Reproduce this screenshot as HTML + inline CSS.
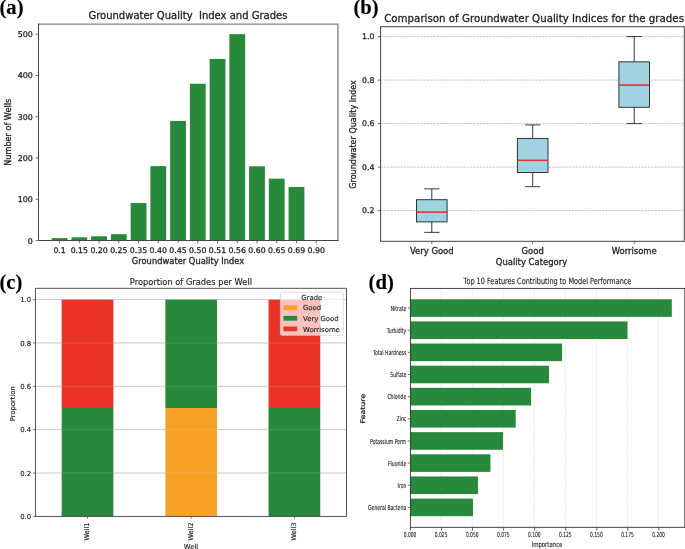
<!DOCTYPE html>
<html><head><meta charset="utf-8"><title>Groundwater Quality Figure</title>
<style>
html,body{margin:0;padding:0;background:#fff;}
body{width:685px;height:549px;overflow:hidden;}
svg{display:block;}
text{white-space:pre;font-family:"DejaVu Sans","Liberation Sans",sans-serif;fill:#222;stroke:#222;stroke-width:0.28px;}
#panel-c text,#panel-d text{stroke-width:0.14px;}
.lab{font-family:"Liberation Serif","DejaVu Serif",serif;font-weight:bold;fill:#000;stroke:#000;stroke-width:0.15px !important;}
</style></head><body>
<svg width="685" height="549" viewBox="0 0 685 549">
<rect width="685" height="549" fill="#fff"/>

<g id="panel-a">
<rect x="51.70" y="238.12" width="15.80" height="2.48" fill="#27893a"/>
<line x1="59.60" y1="240.50" x2="59.60" y2="243.30" stroke="#444" stroke-width="0.8"/>
<text x="59.60" y="252.90" font-size="7.80" text-anchor="middle" xml:space="preserve">0.1</text>
<rect x="71.44" y="237.30" width="15.80" height="3.30" fill="#27893a"/>
<line x1="79.34" y1="240.50" x2="79.34" y2="243.30" stroke="#444" stroke-width="0.8"/>
<text x="79.34" y="252.90" font-size="7.80" text-anchor="middle" xml:space="preserve">0.15</text>
<rect x="91.18" y="236.27" width="15.80" height="4.33" fill="#27893a"/>
<line x1="99.08" y1="240.50" x2="99.08" y2="243.30" stroke="#444" stroke-width="0.8"/>
<text x="99.08" y="252.90" font-size="7.80" text-anchor="middle" xml:space="preserve">0.20</text>
<rect x="110.92" y="234.20" width="15.80" height="6.40" fill="#27893a"/>
<line x1="118.82" y1="240.50" x2="118.82" y2="243.30" stroke="#444" stroke-width="0.8"/>
<text x="118.82" y="252.90" font-size="7.80" text-anchor="middle" xml:space="preserve">0.25</text>
<rect x="130.66" y="203.04" width="15.80" height="37.56" fill="#27893a"/>
<line x1="138.56" y1="240.50" x2="138.56" y2="243.30" stroke="#444" stroke-width="0.8"/>
<text x="138.56" y="252.90" font-size="7.80" text-anchor="middle" xml:space="preserve">0.35</text>
<rect x="150.40" y="166.09" width="15.80" height="74.51" fill="#27893a"/>
<line x1="158.30" y1="240.50" x2="158.30" y2="243.30" stroke="#444" stroke-width="0.8"/>
<text x="158.30" y="252.90" font-size="7.80" text-anchor="middle" xml:space="preserve">0.40</text>
<rect x="170.14" y="120.89" width="15.80" height="119.71" fill="#27893a"/>
<line x1="178.04" y1="240.50" x2="178.04" y2="243.30" stroke="#444" stroke-width="0.8"/>
<text x="178.04" y="252.90" font-size="7.80" text-anchor="middle" xml:space="preserve">0.45</text>
<rect x="189.88" y="83.74" width="15.80" height="156.86" fill="#27893a"/>
<line x1="197.78" y1="240.50" x2="197.78" y2="243.30" stroke="#444" stroke-width="0.8"/>
<text x="197.78" y="252.90" font-size="7.80" text-anchor="middle" xml:space="preserve">0.50</text>
<rect x="209.62" y="58.97" width="15.80" height="181.63" fill="#27893a"/>
<line x1="217.52" y1="240.50" x2="217.52" y2="243.30" stroke="#444" stroke-width="0.8"/>
<text x="217.52" y="252.90" font-size="7.80" text-anchor="middle" xml:space="preserve">0.51</text>
<rect x="229.36" y="34.20" width="15.80" height="206.40" fill="#27893a"/>
<line x1="237.26" y1="240.50" x2="237.26" y2="243.30" stroke="#444" stroke-width="0.8"/>
<text x="237.26" y="252.90" font-size="7.80" text-anchor="middle" xml:space="preserve">0.56</text>
<rect x="249.10" y="166.30" width="15.80" height="74.30" fill="#27893a"/>
<line x1="257.00" y1="240.50" x2="257.00" y2="243.30" stroke="#444" stroke-width="0.8"/>
<text x="257.00" y="252.90" font-size="7.80" text-anchor="middle" xml:space="preserve">0.60</text>
<rect x="268.84" y="178.68" width="15.80" height="61.92" fill="#27893a"/>
<line x1="276.74" y1="240.50" x2="276.74" y2="243.30" stroke="#444" stroke-width="0.8"/>
<text x="276.74" y="252.90" font-size="7.80" text-anchor="middle" xml:space="preserve">0.65</text>
<rect x="288.58" y="186.94" width="15.80" height="53.66" fill="#27893a"/>
<line x1="296.48" y1="240.50" x2="296.48" y2="243.30" stroke="#444" stroke-width="0.8"/>
<text x="296.48" y="252.90" font-size="7.80" text-anchor="middle" xml:space="preserve">0.69</text>
<line x1="316.22" y1="240.50" x2="316.22" y2="243.30" stroke="#444" stroke-width="0.8"/>
<text x="316.22" y="252.90" font-size="7.80" text-anchor="middle" xml:space="preserve">0.90</text>
<line x1="35.70" y1="240.60" x2="38.50" y2="240.60" stroke="#444" stroke-width="0.8"/>
<text x="32.80" y="243.50" font-size="7.90" text-anchor="end" xml:space="preserve">0</text>
<line x1="35.70" y1="199.32" x2="38.50" y2="199.32" stroke="#444" stroke-width="0.8"/>
<text x="32.80" y="202.22" font-size="7.90" text-anchor="end" xml:space="preserve">100</text>
<line x1="35.70" y1="158.04" x2="38.50" y2="158.04" stroke="#444" stroke-width="0.8"/>
<text x="32.80" y="160.94" font-size="7.90" text-anchor="end" xml:space="preserve">200</text>
<line x1="35.70" y1="116.76" x2="38.50" y2="116.76" stroke="#444" stroke-width="0.8"/>
<text x="32.80" y="119.66" font-size="7.90" text-anchor="end" xml:space="preserve">300</text>
<line x1="35.70" y1="75.48" x2="38.50" y2="75.48" stroke="#444" stroke-width="0.8"/>
<text x="32.80" y="78.38" font-size="7.90" text-anchor="end" xml:space="preserve">400</text>
<line x1="35.70" y1="34.20" x2="38.50" y2="34.20" stroke="#444" stroke-width="0.8"/>
<text x="32.80" y="37.10" font-size="7.90" text-anchor="end" xml:space="preserve">500</text>
<path d="M38.50 24.10H337.90V240.50" fill="none" stroke="#858585" stroke-width="1.4"/>
<path d="M38.50 23.40V240.50H338.60" fill="none" stroke="#444" stroke-width="1"/>
<text x="187.90" y="19.00" font-size="10.00" text-anchor="middle" xml:space="preserve">Groundwater Quality  Index and Grades</text>
<text x="188.00" y="263.50" font-size="8.33" text-anchor="middle" xml:space="preserve">Groundwater Quality Index</text>
<text x="11.40" y="132.30" font-size="8.15" text-anchor="middle" transform="rotate(-90 11.40 132.30)" xml:space="preserve">Number of Wells</text>
<text x="-0.50" y="14.00" font-size="20.60" text-anchor="start" class="lab" xml:space="preserve">(a)</text>
</g>
<g id="panel-b">
<line x1="380.60" y1="210.60" x2="684.30" y2="210.60" stroke="#b0b0b0" stroke-width="0.75" stroke-dasharray="2.3 1.0"/>
<line x1="380.60" y1="167.10" x2="684.30" y2="167.10" stroke="#b0b0b0" stroke-width="0.75" stroke-dasharray="2.3 1.0"/>
<line x1="380.60" y1="123.60" x2="684.30" y2="123.60" stroke="#b0b0b0" stroke-width="0.75" stroke-dasharray="2.3 1.0"/>
<line x1="380.60" y1="80.10" x2="684.30" y2="80.10" stroke="#b0b0b0" stroke-width="0.75" stroke-dasharray="2.3 1.0"/>
<line x1="380.60" y1="36.60" x2="684.30" y2="36.60" stroke="#b0b0b0" stroke-width="0.75" stroke-dasharray="2.3 1.0"/>
<line x1="431.80" y1="199.72" x2="431.80" y2="188.85" stroke="#222" stroke-width="0.9"/>
<line x1="431.80" y1="221.91" x2="431.80" y2="232.35" stroke="#222" stroke-width="0.9"/>
<line x1="424.20" y1="188.85" x2="439.40" y2="188.85" stroke="#222" stroke-width="0.9"/>
<line x1="424.20" y1="232.35" x2="439.40" y2="232.35" stroke="#222" stroke-width="0.9"/>
<rect x="416.50" y="199.72" width="30.60" height="22.19" fill="#9fd3e2" stroke="#222" stroke-width="0.9"/>
<line x1="416.50" y1="212.12" x2="447.10" y2="212.12" stroke="#e8332a" stroke-width="1.6"/>
<line x1="532.70" y1="138.39" x2="532.70" y2="124.91" stroke="#222" stroke-width="0.9"/>
<line x1="532.70" y1="172.54" x2="532.70" y2="186.68" stroke="#222" stroke-width="0.9"/>
<line x1="525.10" y1="124.91" x2="540.30" y2="124.91" stroke="#222" stroke-width="0.9"/>
<line x1="525.10" y1="186.68" x2="540.30" y2="186.68" stroke="#222" stroke-width="0.9"/>
<rect x="517.40" y="138.39" width="30.60" height="34.15" fill="#9fd3e2" stroke="#222" stroke-width="0.9"/>
<line x1="517.40" y1="160.36" x2="548.00" y2="160.36" stroke="#e8332a" stroke-width="1.6"/>
<line x1="634.20" y1="61.83" x2="634.20" y2="36.60" stroke="#222" stroke-width="0.9"/>
<line x1="634.20" y1="107.29" x2="634.20" y2="123.60" stroke="#222" stroke-width="0.9"/>
<line x1="626.60" y1="36.60" x2="641.80" y2="36.60" stroke="#222" stroke-width="0.9"/>
<line x1="626.60" y1="123.60" x2="641.80" y2="123.60" stroke="#222" stroke-width="0.9"/>
<rect x="618.90" y="61.83" width="30.60" height="45.46" fill="#9fd3e2" stroke="#222" stroke-width="0.9"/>
<line x1="618.90" y1="85.10" x2="649.50" y2="85.10" stroke="#e8332a" stroke-width="1.6"/>
<line x1="377.80" y1="210.60" x2="380.60" y2="210.60" stroke="#444" stroke-width="0.8"/>
<text x="374.50" y="213.10" font-size="7.80" text-anchor="end" xml:space="preserve">0.2</text>
<line x1="377.80" y1="167.10" x2="380.60" y2="167.10" stroke="#444" stroke-width="0.8"/>
<text x="374.50" y="169.60" font-size="7.80" text-anchor="end" xml:space="preserve">0.4</text>
<line x1="377.80" y1="123.60" x2="380.60" y2="123.60" stroke="#444" stroke-width="0.8"/>
<text x="374.50" y="126.10" font-size="7.80" text-anchor="end" xml:space="preserve">0.6</text>
<line x1="377.80" y1="80.10" x2="380.60" y2="80.10" stroke="#444" stroke-width="0.8"/>
<text x="374.50" y="82.60" font-size="7.80" text-anchor="end" xml:space="preserve">0.8</text>
<line x1="377.80" y1="36.60" x2="380.60" y2="36.60" stroke="#444" stroke-width="0.8"/>
<text x="374.50" y="39.10" font-size="7.80" text-anchor="end" xml:space="preserve">1.0</text>
<line x1="431.80" y1="241.30" x2="431.80" y2="244.10" stroke="#444" stroke-width="0.8"/>
<text x="431.80" y="254.00" font-size="8.45" text-anchor="middle" xml:space="preserve">Very Good</text>
<line x1="532.70" y1="241.30" x2="532.70" y2="244.10" stroke="#444" stroke-width="0.8"/>
<text x="532.70" y="254.00" font-size="8.45" text-anchor="middle" xml:space="preserve">Good</text>
<line x1="634.20" y1="241.30" x2="634.20" y2="244.10" stroke="#444" stroke-width="0.8"/>
<text x="634.20" y="254.00" font-size="8.45" text-anchor="middle" xml:space="preserve">Worrisome</text>
<rect x="380.60" y="26.70" width="303.70" height="214.60" fill="none" stroke="#444" stroke-width="1"/>
<text x="384.20" y="21.60" font-size="10.25" text-anchor="start" xml:space="preserve">Comparison of Groundwater Quality Indices for the grades</text>
<text x="531.45" y="264.60" font-size="8.45" text-anchor="middle" xml:space="preserve">Quality Category</text>
<text x="355.90" y="134.40" font-size="8.05" text-anchor="middle" transform="rotate(-90 355.90 134.40)" xml:space="preserve">Groundwater Quality Index</text>
<text x="353.40" y="13.70" font-size="20.60" text-anchor="start" class="lab" xml:space="preserve">(b)</text>
</g>
<g id="panel-c">
<line x1="35.40" y1="473.04" x2="346.50" y2="473.04" stroke="#bdbdbd" stroke-width="0.8"/>
<line x1="35.40" y1="429.68" x2="346.50" y2="429.68" stroke="#bdbdbd" stroke-width="0.8"/>
<line x1="35.40" y1="386.32" x2="346.50" y2="386.32" stroke="#bdbdbd" stroke-width="0.8"/>
<line x1="35.40" y1="342.96" x2="346.50" y2="342.96" stroke="#bdbdbd" stroke-width="0.8"/>
<line x1="35.40" y1="299.60" x2="346.50" y2="299.60" stroke="#bdbdbd" stroke-width="0.8"/>
<rect x="61.65" y="408.00" width="51.70" height="108.40" fill="#27893a"/>
<rect x="61.65" y="299.60" width="51.70" height="108.40" fill="#ea3226"/>
<rect x="165.35" y="408.00" width="51.70" height="108.40" fill="#f8a125"/>
<rect x="165.35" y="299.60" width="51.70" height="108.40" fill="#27893a"/>
<rect x="268.55" y="408.00" width="51.70" height="108.40" fill="#27893a"/>
<rect x="268.55" y="299.60" width="51.70" height="108.40" fill="#ea3226"/>
<line x1="35.40" y1="473.04" x2="346.50" y2="473.04" stroke="#d8d8d8" stroke-opacity="0.28" stroke-width="0.8"/>
<line x1="35.40" y1="429.68" x2="346.50" y2="429.68" stroke="#d8d8d8" stroke-opacity="0.28" stroke-width="0.8"/>
<line x1="35.40" y1="386.32" x2="346.50" y2="386.32" stroke="#d8d8d8" stroke-opacity="0.28" stroke-width="0.8"/>
<line x1="35.40" y1="342.96" x2="346.50" y2="342.96" stroke="#d8d8d8" stroke-opacity="0.28" stroke-width="0.8"/>
<line x1="35.40" y1="299.60" x2="346.50" y2="299.60" stroke="#d8d8d8" stroke-opacity="0.28" stroke-width="0.8"/>
<line x1="33.00" y1="516.40" x2="35.40" y2="516.40" stroke="#444" stroke-width="0.7"/>
<text x="31.20" y="519.00" font-size="6.90" text-anchor="end" xml:space="preserve">0.0</text>
<line x1="33.00" y1="473.04" x2="35.40" y2="473.04" stroke="#444" stroke-width="0.7"/>
<text x="31.20" y="475.64" font-size="6.90" text-anchor="end" xml:space="preserve">0.2</text>
<line x1="33.00" y1="429.68" x2="35.40" y2="429.68" stroke="#444" stroke-width="0.7"/>
<text x="31.20" y="432.28" font-size="6.90" text-anchor="end" xml:space="preserve">0.4</text>
<line x1="33.00" y1="386.32" x2="35.40" y2="386.32" stroke="#444" stroke-width="0.7"/>
<text x="31.20" y="388.92" font-size="6.90" text-anchor="end" xml:space="preserve">0.6</text>
<line x1="33.00" y1="342.96" x2="35.40" y2="342.96" stroke="#444" stroke-width="0.7"/>
<text x="31.20" y="345.56" font-size="6.90" text-anchor="end" xml:space="preserve">0.8</text>
<line x1="33.00" y1="299.60" x2="35.40" y2="299.60" stroke="#444" stroke-width="0.7"/>
<text x="31.20" y="302.20" font-size="6.90" text-anchor="end" xml:space="preserve">1.0</text>
<line x1="87.50" y1="516.40" x2="87.50" y2="518.80" stroke="#444" stroke-width="0.7"/>
<text x="89.50" y="522.40" font-size="6.70" text-anchor="end" transform="rotate(-90 89.50 522.40)" xml:space="preserve">Well1</text>
<line x1="191.20" y1="516.40" x2="191.20" y2="518.80" stroke="#444" stroke-width="0.7"/>
<text x="193.20" y="522.40" font-size="6.70" text-anchor="end" transform="rotate(-90 193.20 522.40)" xml:space="preserve">Well2</text>
<line x1="294.40" y1="516.40" x2="294.40" y2="518.80" stroke="#444" stroke-width="0.7"/>
<text x="296.40" y="522.40" font-size="6.70" text-anchor="end" transform="rotate(-90 296.40 522.40)" xml:space="preserve">Well3</text>
<rect x="35.40" y="288.30" width="311.10" height="228.10" fill="none" stroke="#444" stroke-width="0.9"/>
<rect x="280.4" y="292.1" width="62.8" height="43.2" rx="1.6" fill="#fff" fill-opacity="0.7" stroke="#d0d0d0" stroke-width="0.7"/>
<text x="311.80" y="300.40" font-size="6.90" text-anchor="middle" xml:space="preserve">Grade</text>
<rect x="283.4" y="305.30" width="13.8" height="4.8" fill="#f8a125"/>
<text x="303.00" y="310.40" font-size="6.90" text-anchor="start" xml:space="preserve">Good</text>
<rect x="283.4" y="315.90" width="13.8" height="4.8" fill="#27893a"/>
<text x="303.00" y="321.00" font-size="6.90" text-anchor="start" xml:space="preserve">Very Good</text>
<rect x="283.4" y="326.50" width="13.8" height="4.8" fill="#ea3226"/>
<text x="303.00" y="331.60" font-size="6.90" text-anchor="start" xml:space="preserve">Worrisome</text>
<text x="190.95" y="284.60" font-size="8.30" text-anchor="middle" xml:space="preserve">Proportion of Grades per Well</text>
<text x="191.00" y="548.90" font-size="6.90" text-anchor="middle" xml:space="preserve">Well</text>
<text x="15.40" y="403.65" font-size="6.80" text-anchor="middle" transform="rotate(-90 15.40 403.65)" xml:space="preserve">Proportion</text>
<text x="-0.50" y="289.40" font-size="20.60" text-anchor="start" class="lab" xml:space="preserve">(c)</text>
</g>
<g id="panel-d">
<line x1="441.15" y1="288.40" x2="441.15" y2="527.30" stroke="#d8d8d8" stroke-width="0.7" stroke-dasharray="1.3 1.1"/>
<line x1="472.20" y1="288.40" x2="472.20" y2="527.30" stroke="#d8d8d8" stroke-width="0.7" stroke-dasharray="1.3 1.1"/>
<line x1="503.25" y1="288.40" x2="503.25" y2="527.30" stroke="#d8d8d8" stroke-width="0.7" stroke-dasharray="1.3 1.1"/>
<line x1="534.30" y1="288.40" x2="534.30" y2="527.30" stroke="#d8d8d8" stroke-width="0.7" stroke-dasharray="1.3 1.1"/>
<line x1="565.35" y1="288.40" x2="565.35" y2="527.30" stroke="#d8d8d8" stroke-width="0.7" stroke-dasharray="1.3 1.1"/>
<line x1="596.40" y1="288.40" x2="596.40" y2="527.30" stroke="#d8d8d8" stroke-width="0.7" stroke-dasharray="1.3 1.1"/>
<line x1="627.45" y1="288.40" x2="627.45" y2="527.30" stroke="#d8d8d8" stroke-width="0.7" stroke-dasharray="1.3 1.1"/>
<line x1="658.50" y1="288.40" x2="658.50" y2="527.30" stroke="#d8d8d8" stroke-width="0.7" stroke-dasharray="1.3 1.1"/>
<rect x="410.10" y="299.25" width="261.69" height="17.60" fill="#27893a"/>
<line x1="407.70" y1="308.05" x2="410.10" y2="308.05" stroke="#444" stroke-width="0.7"/>
<text x="0" y="0" font-size="6.90" text-anchor="end" transform="translate(406.30 310.65) scale(0.660 1)" xml:space="preserve">Nitrate</text>
<rect x="410.10" y="321.40" width="217.35" height="17.60" fill="#27893a"/>
<line x1="407.70" y1="330.20" x2="410.10" y2="330.20" stroke="#444" stroke-width="0.7"/>
<text x="0" y="0" font-size="6.90" text-anchor="end" transform="translate(406.30 332.80) scale(0.660 1)" xml:space="preserve">Turbidity</text>
<rect x="410.10" y="343.55" width="151.90" height="17.60" fill="#27893a"/>
<line x1="407.70" y1="352.35" x2="410.10" y2="352.35" stroke="#444" stroke-width="0.7"/>
<text x="0" y="0" font-size="6.90" text-anchor="end" transform="translate(406.30 354.95) scale(0.660 1)" xml:space="preserve">Total Hardness</text>
<rect x="410.10" y="365.70" width="138.86" height="17.60" fill="#27893a"/>
<line x1="407.70" y1="374.50" x2="410.10" y2="374.50" stroke="#444" stroke-width="0.7"/>
<text x="0" y="0" font-size="6.90" text-anchor="end" transform="translate(406.30 377.10) scale(0.660 1)" xml:space="preserve">Sulfate</text>
<rect x="410.10" y="387.85" width="120.97" height="17.60" fill="#27893a"/>
<line x1="407.70" y1="396.65" x2="410.10" y2="396.65" stroke="#444" stroke-width="0.7"/>
<text x="0" y="0" font-size="6.90" text-anchor="end" transform="translate(406.30 399.25) scale(0.660 1)" xml:space="preserve">Chloride</text>
<rect x="410.10" y="410.00" width="105.57" height="17.60" fill="#27893a"/>
<line x1="407.70" y1="418.80" x2="410.10" y2="418.80" stroke="#444" stroke-width="0.7"/>
<text x="0" y="0" font-size="6.90" text-anchor="end" transform="translate(406.30 421.40) scale(0.660 1)" xml:space="preserve">Zinc</text>
<rect x="410.10" y="432.15" width="92.90" height="17.60" fill="#27893a"/>
<line x1="407.70" y1="440.95" x2="410.10" y2="440.95" stroke="#444" stroke-width="0.7"/>
<text x="0" y="0" font-size="6.90" text-anchor="end" transform="translate(406.30 443.55) scale(0.660 1)" xml:space="preserve">Potassium Perm</text>
<rect x="410.10" y="454.30" width="80.36" height="17.60" fill="#27893a"/>
<line x1="407.70" y1="463.10" x2="410.10" y2="463.10" stroke="#444" stroke-width="0.7"/>
<text x="0" y="0" font-size="6.90" text-anchor="end" transform="translate(406.30 465.70) scale(0.660 1)" xml:space="preserve">Fluoride</text>
<rect x="410.10" y="476.45" width="67.81" height="17.60" fill="#27893a"/>
<line x1="407.70" y1="485.25" x2="410.10" y2="485.25" stroke="#444" stroke-width="0.7"/>
<text x="0" y="0" font-size="6.90" text-anchor="end" transform="translate(406.30 487.85) scale(0.660 1)" xml:space="preserve">Iron</text>
<rect x="410.10" y="498.60" width="62.85" height="17.60" fill="#27893a"/>
<line x1="407.70" y1="507.40" x2="410.10" y2="507.40" stroke="#444" stroke-width="0.7"/>
<text x="0" y="0" font-size="6.90" text-anchor="end" transform="translate(406.30 510.00) scale(0.660 1)" xml:space="preserve">General Bacteria</text>
<line x1="410.45" y1="527.30" x2="410.45" y2="530.50" stroke="#333" stroke-width="0.8"/>
<text x="0" y="0" font-size="6.90" text-anchor="middle" transform="translate(410.10 537.20) scale(0.640 1)" xml:space="preserve">0.000</text>
<line x1="441.50" y1="527.30" x2="441.50" y2="530.50" stroke="#333" stroke-width="0.8"/>
<text x="0" y="0" font-size="6.90" text-anchor="middle" transform="translate(441.15 537.20) scale(0.640 1)" xml:space="preserve">0.025</text>
<line x1="472.55" y1="527.30" x2="472.55" y2="530.50" stroke="#333" stroke-width="0.8"/>
<text x="0" y="0" font-size="6.90" text-anchor="middle" transform="translate(472.20 537.20) scale(0.640 1)" xml:space="preserve">0.050</text>
<line x1="503.60" y1="527.30" x2="503.60" y2="530.50" stroke="#333" stroke-width="0.8"/>
<text x="0" y="0" font-size="6.90" text-anchor="middle" transform="translate(503.25 537.20) scale(0.640 1)" xml:space="preserve">0.075</text>
<line x1="534.65" y1="527.30" x2="534.65" y2="530.50" stroke="#333" stroke-width="0.8"/>
<text x="0" y="0" font-size="6.90" text-anchor="middle" transform="translate(534.30 537.20) scale(0.640 1)" xml:space="preserve">0.100</text>
<line x1="565.70" y1="527.30" x2="565.70" y2="530.50" stroke="#333" stroke-width="0.8"/>
<text x="0" y="0" font-size="6.90" text-anchor="middle" transform="translate(565.35 537.20) scale(0.640 1)" xml:space="preserve">0.125</text>
<line x1="596.75" y1="527.30" x2="596.75" y2="530.50" stroke="#333" stroke-width="0.8"/>
<text x="0" y="0" font-size="6.90" text-anchor="middle" transform="translate(596.40 537.20) scale(0.640 1)" xml:space="preserve">0.150</text>
<line x1="627.80" y1="527.30" x2="627.80" y2="530.50" stroke="#333" stroke-width="0.8"/>
<text x="0" y="0" font-size="6.90" text-anchor="middle" transform="translate(627.45 537.20) scale(0.640 1)" xml:space="preserve">0.175</text>
<line x1="658.85" y1="527.30" x2="658.85" y2="530.50" stroke="#333" stroke-width="0.8"/>
<text x="0" y="0" font-size="6.90" text-anchor="middle" transform="translate(658.50 537.20) scale(0.640 1)" xml:space="preserve">0.200</text>
<rect x="410.40" y="288.40" width="274.40" height="238.90" fill="none" stroke="#333" stroke-width="0.9"/>
<text x="0" y="0" font-size="8.60" text-anchor="middle" transform="translate(547.45 283.80) scale(0.759 1)" xml:space="preserve">Top 10 Features Contributing to Model Performance</text>
<text x="0" y="0" font-size="7.30" text-anchor="middle" transform="translate(547.00 547.00) scale(0.740 1)" xml:space="preserve">Importance</text>
<text x="0" y="0" font-size="7.85" text-anchor="middle" style="stroke-width:0.3px" transform="translate(364.7 408.7) scale(0.8 1) rotate(-90)">Feature</text>
<text x="368.60" y="289.20" font-size="20.60" text-anchor="start" class="lab" xml:space="preserve">(d)</text>
</g>
</svg></body></html>
